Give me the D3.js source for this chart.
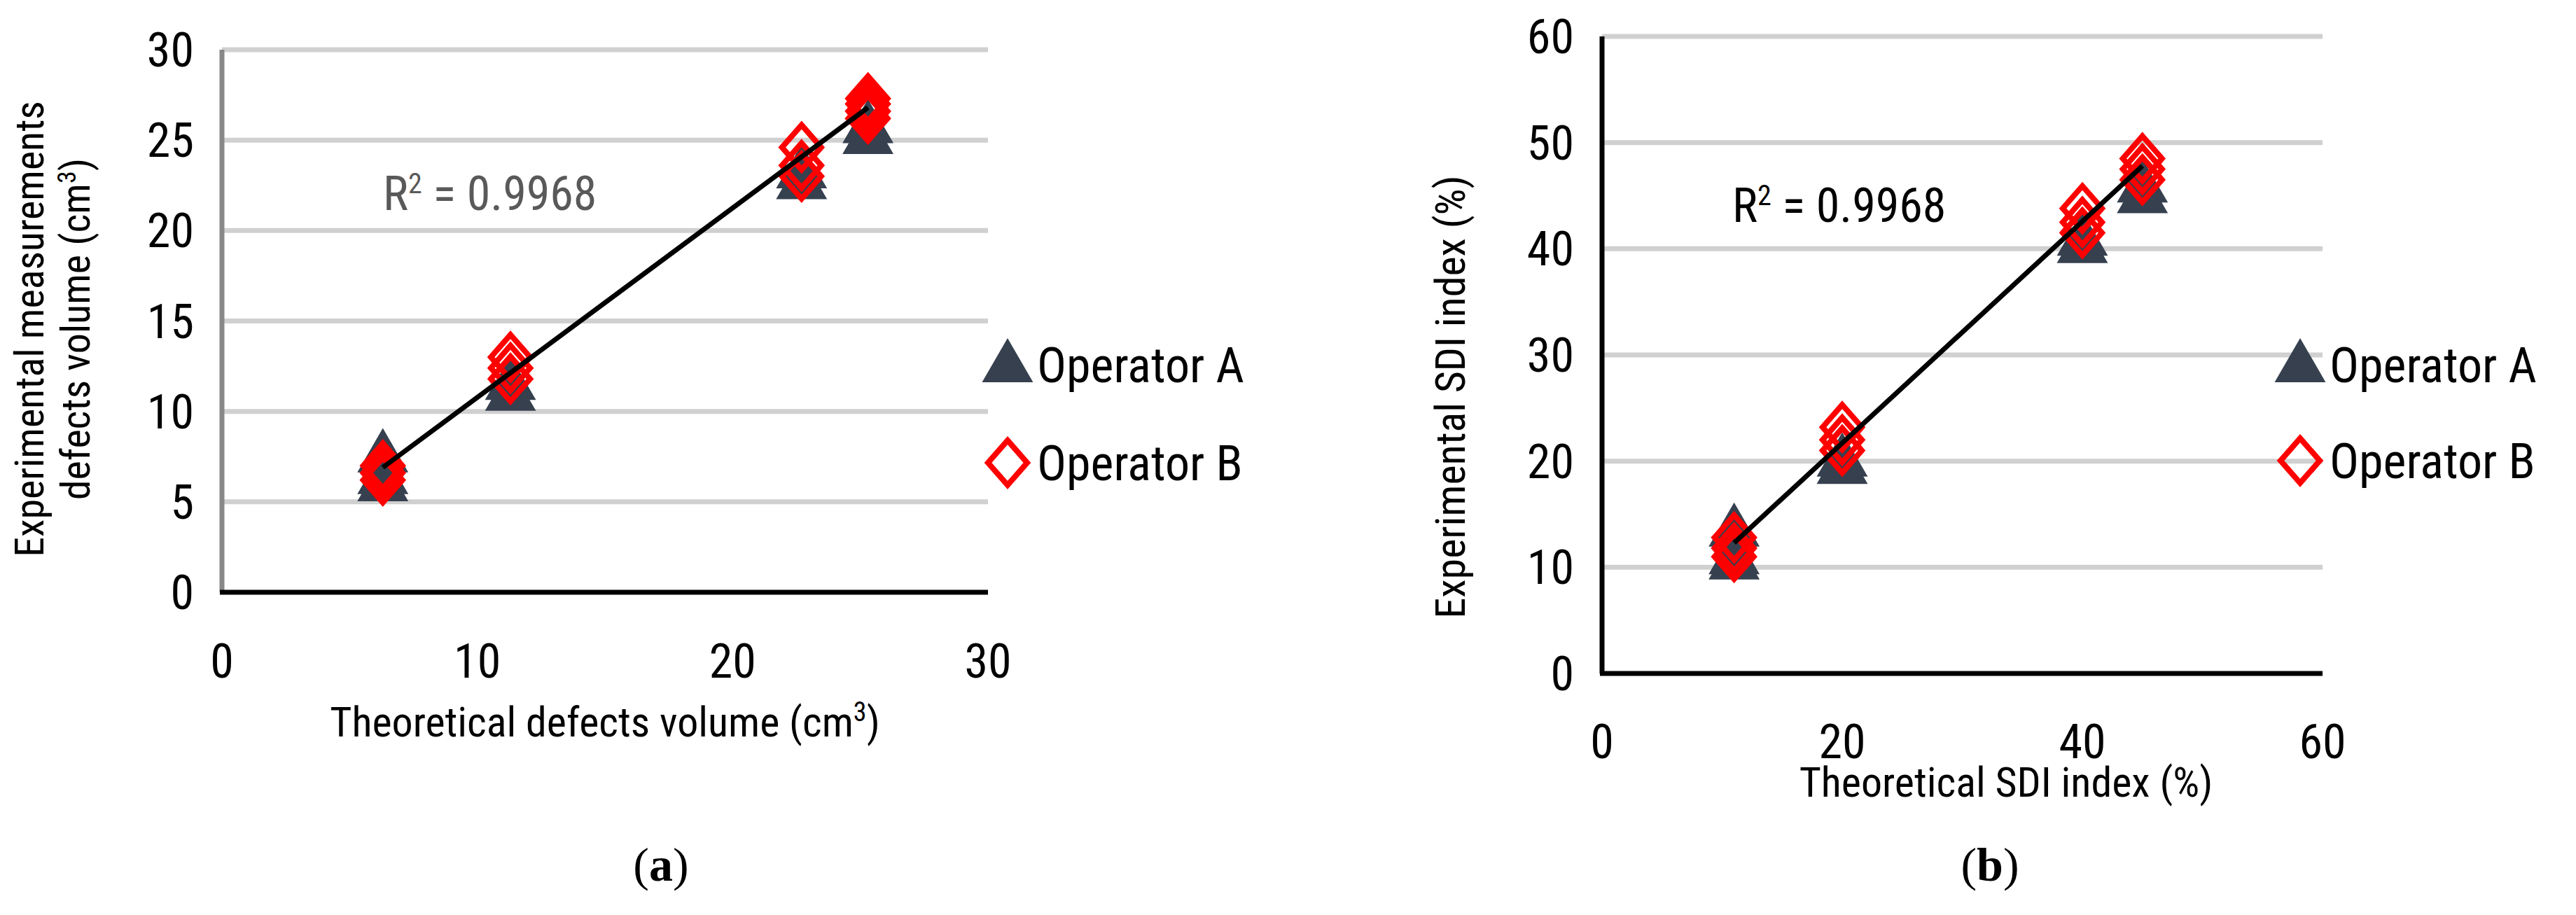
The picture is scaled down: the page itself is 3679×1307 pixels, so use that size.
<!DOCTYPE html>
<html><head><meta charset="utf-8">
<script src="https://cdn.jsdelivr.net/npm/d3@7"></script>
<style>body{margin:0;background:#fff}svg{font-family:"Liberation Sans Narrow","Roboto Condensed",Roboto,sans-serif}</style>
</head><body><svg id="c" width="3679" height="1307"></svg>
<script>
// panel a
var aOpA = [[6.3,6.0],[6.3,6.4],[6.3,7.6],[11.3,11.0],[11.3,11.6],[22.7,22.7],[22.7,23.3],[25.3,25.2],[25.3,25.8]];
var aOpB = [[6.3,6.2],[6.3,6.6],[6.3,7.0],[11.3,11.8],[11.3,12.4],[11.3,13.0],[22.7,23.0],[22.7,23.6],[22.7,24.6],[25.3,26.2],[25.3,26.6],[25.3,27.0],[25.3,27.3]];
var aTrend = [[6.3,6.9],[25.3,26.8]];
var aXTicks = [0,10,20,30], aYTicks = [0,5,10,15,20,25,30];
// panel b
var bOpA = [[11,10.5],[11,11.0],[11,13.6],[20,19.5],[20,20.2],[40,40.3],[40,41.0],[45,45.0],[45,46.0]];
var bOpB = [[11,11.0],[11,11.8],[11,12.8],[20,21.0],[20,22.0],[20,23.2],[40,41.5],[40,42.5],[40,43.8],[45,46.5],[45,47.5],[45,48.5]];
var bTrend = [[11,12.3],[45,47.8]];
var bXTicks = [0,20,40,60], bYTicks = [0,10,20,30,40,50,60];

var svg = d3.select("#c");
var tri = d3.symbol().type(d3.symbolTriangle).size(2300);
var dia = "M0,-32L28,0L0,32L-28,0Z";

function panel(o){
  var g = svg.append("g");
  var x = d3.scaleLinear().domain([0,o.max]).range([o.x0,o.x1]);
  var y = d3.scaleLinear().domain([0,o.max]).range([o.y0,o.y1]);
  g.selectAll(".gr").data(o.yt.filter(d=>d>0)).join("line")
    .attr("x1",o.x0).attr("x2",o.x1).attr("y1",d=>y(d)).attr("y2",d=>y(d))
    .attr("stroke","#d0d0d0").attr("stroke-width",7);
  g.append("line").attr("x1",o.x0).attr("x2",o.x0).attr("y1",o.y0).attr("y2",o.y1)
    .attr("stroke",o.yAxisCol).attr("stroke-width",7);
  g.append("line").attr("x1",o.x0-3).attr("x2",o.x1).attr("y1",o.y0).attr("y2",o.y0)
    .attr("stroke","#000").attr("stroke-width",7);
  g.selectAll(".yt").data(o.yt).join("text").attr("x",o.x0-40).attr("y",d=>y(d)+24)
    .attr("text-anchor","end").attr("font-size",68).text(d=>d);
  g.selectAll(".xt").data(o.xt).join("text").attr("x",d=>x(d)).attr("y",o.xtY)
    .attr("text-anchor","middle").attr("font-size",68).text(d=>d);
  g.selectAll(".a").data(o.A).join("path").attr("d",tri)
    .attr("transform",d=>"translate("+x(d[0])+","+(y(d[1])+4)+")").attr("fill","#36404f");
  g.selectAll(".b").data(o.B).join("path").attr("d",dia)
    .attr("transform",d=>"translate("+x(d[0])+","+y(d[1])+")")
    .attr("fill","none").attr("stroke","#f00").attr("stroke-width",8);
  g.append("path").attr("d",d3.line().x(d=>x(d[0])).y(d=>y(d[1]))(o.T))
    .attr("stroke","#000").attr("stroke-width",7).attr("fill","none");
  var r = g.append("text").attr("x",o.rx).attr("y",o.ry).attr("font-size",68).attr("fill",o.rCol);
  r.append("tspan").text("R");
  r.append("tspan").attr("dy",-24).attr("font-size",40).text("2");
  r.append("tspan").attr("dy",24).text(" = 0.9968");
  g.append("path").attr("d",tri).attr("transform","translate("+o.lx+","+(o.ly1+4)+")").attr("fill","#36404f");
  g.append("path").attr("d",dia).attr("transform","translate("+o.lx+","+o.ly2+")")
    .attr("fill","none").attr("stroke","#f00").attr("stroke-width",8);
  g.append("text").attr("x",o.lx+42).attr("y",o.ly1+25).attr("font-size",70).text("Operator A");
  g.append("text").attr("x",o.lx+42).attr("y",o.ly2+25).attr("font-size",70).text("Operator B");
  var xt = g.append("text").attr("x",o.xTitleX).attr("y",o.xTitleY).attr("text-anchor","middle").attr("font-size",60);
  o.xTitle(xt);
  o.yTitle(g);
  g.append("text").attr("x",o.capX).attr("y",1258).attr("text-anchor","middle")
    .attr("font-family","Liberation Serif,serif").attr("font-size",68)
    .html("(<tspan font-weight='bold'>"+o.cap+"</tspan>)");
}

panel({max:30,x0:317,x1:1411,y0:846,y1:71,yt:aYTicks,xt:aXTicks,xtY:968,A:aOpA,B:aOpB,T:aTrend,
  yAxisCol:"#888",rx:547,ry:300,rCol:"#595959",lx:1439,ly1:521,ly2:661,
  xTitleX:864,xTitleY:1052,cap:"a",capX:944,
  xTitle:function(t){t.append("tspan").text("Theoretical defects volume (cm");t.append("tspan").attr("dy",-22).attr("font-size",38).text("3");t.append("tspan").attr("dy",22).text(")");},
  yTitle:function(g){
    g.append("text").attr("transform","translate(62,470) rotate(-90)").attr("text-anchor","middle").attr("font-size",58).text("Experimental measurements");
    var t2=g.append("text").attr("transform","translate(128,470) rotate(-90)").attr("text-anchor","middle").attr("font-size",58);
    t2.append("tspan").text("defects volume (cm");t2.append("tspan").attr("dy",-20).attr("font-size",36).text("3");t2.append("tspan").attr("dy",20).text(")");
  }});

panel({max:60,x0:2288,x1:3317,y0:962,y1:52,yt:bYTicks,xt:bXTicks,xtY:1083,A:bOpA,B:bOpB,T:bTrend,
  yAxisCol:"#000",rx:2474,ry:317,rCol:"#000",lx:3285,ly1:521,ly2:658,
  xTitleX:2865,xTitleY:1138,cap:"b",capX:2842,
  xTitle:function(t){t.text("Theoretical SDI index (%)");},
  yTitle:function(g){
    g.append("text").attr("transform","translate(2092,567) rotate(-90)").attr("text-anchor","middle").attr("font-size",60).text("Experimental SDI index (%)");
  }});
</script></body></html>
